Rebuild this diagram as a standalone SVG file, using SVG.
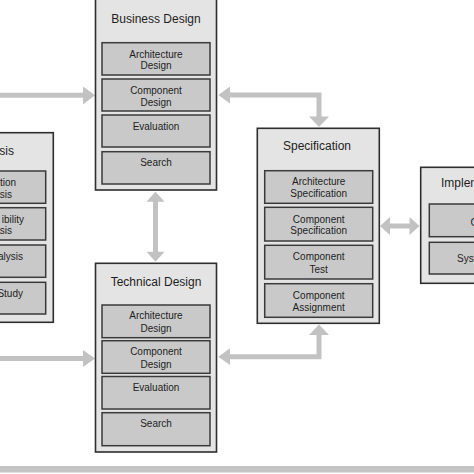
<svg xmlns="http://www.w3.org/2000/svg" width="474" height="474" viewBox="0 0 474 474">
<style>
.outer{fill:#e4e4e4;stroke:#2e2e2e;stroke-width:1.6}
.inner{fill:#c9c9c9;stroke:#3a3a3a;stroke-width:1.5}
.t{font-family:"Liberation Sans",Arial,sans-serif;fill:#1e1e1e;text-anchor:middle}
.title{font-size:12px}
.item{font-size:10px}
.e{text-anchor:end}
.s{text-anchor:start}
.shaft{fill:none;stroke:#c2c2c2;stroke-width:5}
.head{fill:#c2c2c2}
</style>
<rect width="474" height="474" fill="#ffffff"/>

<g id="connectors">
  <line class="shaft" x1="0" y1="95.3" x2="84" y2="95.3"/>
  <polygon class="head" points="83,86.5 95,95.3 83,104.5"/>
  <line class="shaft" x1="0" y1="358.5" x2="84" y2="358.5"/>
  <polygon class="head" points="83,350 95,358.5 83,367"/>
  <path class="shaft" d="M229,95 H319 V118"/>
  <polygon class="head" points="230,86.5 218.3,95 230,103.5"/>
  <polygon class="head" points="309,116.5 319,127 329,116.5"/>
  <path class="shaft" d="M229,356.7 H319 V334"/>
  <polygon class="head" points="230,348.3 218.3,356.7 230,365"/>
  <polygon class="head" points="309,335 319,324.5 329,335"/>
  <line class="shaft" x1="155.5" y1="200" x2="155.5" y2="253"/>
  <polygon class="head" points="146.5,201.7 155.5,191.7 164.5,201.7"/>
  <polygon class="head" points="146.5,251.7 155.5,261.7 164.5,251.7"/>
  <line class="shaft" x1="389" y1="226" x2="411" y2="226"/>
  <polygon class="head" points="390,217 380,226 390,235"/>
  <polygon class="head" points="409.5,217 419.5,226 409.5,235"/>
  <rect x="0" y="466" width="474" height="6.5" fill="#c4c4c4"/>
</g>

<g id="analysis">
  <rect class="outer" x="-69" y="132.7" width="122.3" height="189.6"/>
  <text class="t title e" x="14" y="155">sis</text>
  <rect class="inner" x="-62.3" y="171" width="108" height="32.3"/>
  <text class="t item e" x="16" y="186.3">tion</text>
  <text class="t item e" x="12" y="197.6">sis</text>
  <rect class="inner" x="-62.3" y="207.7" width="108" height="32.3"/>
  <text class="t item e" x="24" y="222.9">ibility</text>
  <text class="t item e" x="12" y="234.3">sis</text>
  <rect class="inner" x="-62.3" y="245" width="108" height="32.3"/>
  <text class="t item e" x="23" y="260.3">alysis</text>
  <rect class="inner" x="-62.3" y="282.3" width="108" height="31.7"/>
  <text class="t item e" x="23" y="296.9">Study</text>
</g>

<g id="business-design">
  <rect class="outer" x="95.5" y="-1" width="121" height="191"/>
  <text class="t title" x="156" y="22.5">Business Design</text>
  <rect class="inner" x="102" y="42.7" width="108" height="32.3"/>
  <text class="t item" x="156" y="57.6">Architecture</text>
  <text class="t item" x="156" y="69.3">Design</text>
  <rect class="inner" x="102" y="79" width="108" height="32"/>
  <text class="t item" x="156" y="93.6">Component</text>
  <text class="t item" x="156" y="105.6">Design</text>
  <rect class="inner" x="102" y="115" width="108" height="32"/>
  <text class="t item" x="156" y="129.6">Evaluation</text>
  <rect class="inner" x="102" y="151.7" width="108" height="32.3"/>
  <text class="t item" x="156" y="165.6">Search</text>
</g>

<g id="technical-design">
  <rect class="outer" x="95.5" y="263.3" width="121" height="188.7"/>
  <text class="t title" x="156" y="286">Technical Design</text>
  <rect class="inner" x="102" y="305" width="108" height="32.7"/>
  <text class="t item" x="156" y="319.3">Architecture</text>
  <text class="t item" x="156" y="332.3">Design</text>
  <rect class="inner" x="102" y="340.7" width="108" height="32.6"/>
  <text class="t item" x="156" y="355">Component</text>
  <text class="t item" x="156" y="367.6">Design</text>
  <rect class="inner" x="102" y="376.5" width="108" height="32.5"/>
  <text class="t item" x="156" y="390.6">Evaluation</text>
  <rect class="inner" x="102" y="412.7" width="108" height="33"/>
  <text class="t item" x="156" y="427">Search</text>
</g>

<g id="specification">
  <rect class="outer" x="257.3" y="128.3" width="122" height="195"/>
  <text class="t title" x="317" y="150.3">Specification</text>
  <rect class="inner" x="264.7" y="170.7" width="108" height="32.6"/>
  <text class="t item" x="318.7" y="185.3">Architecture</text>
  <text class="t item" x="318.7" y="196.9">Specification</text>
  <rect class="inner" x="264.7" y="207.3" width="108" height="33.7"/>
  <text class="t item" x="318.7" y="222.6">Component</text>
  <text class="t item" x="318.7" y="234.3">Specification</text>
  <rect class="inner" x="264.7" y="245.3" width="108" height="33.7"/>
  <text class="t item" x="318.7" y="260.3">Component</text>
  <text class="t item" x="318.7" y="272.6">Test</text>
  <rect class="inner" x="264.7" y="283.7" width="108" height="33.6"/>
  <text class="t item" x="318.7" y="298.6">Component</text>
  <text class="t item" x="318.7" y="310.9">Assignment</text>
</g>

<g id="implementation">
  <rect class="outer" x="420.7" y="167.3" width="122" height="116"/>
  <text class="t title s" x="441" y="187">Implem</text>
  <rect class="inner" x="429.3" y="204" width="108" height="32.7"/>
  <text class="t item s" x="470.5" y="226">C</text>
  <rect class="inner" x="429.3" y="242.3" width="108" height="31.7"/>
  <text class="t item s" x="457" y="262">Syst</text>
</g>
</svg>
